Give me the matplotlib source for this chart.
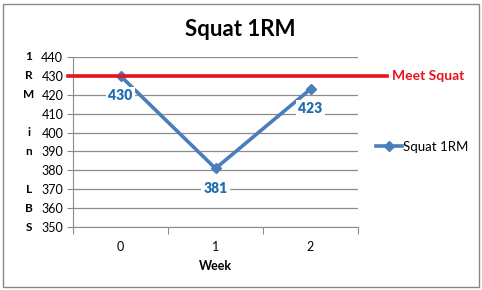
import matplotlib.pyplot as plt
from matplotlib.ticker import FixedLocator, NullFormatter

weeks = [0, 1, 2]
squat = [430, 381, 423]
meet_squat = 430
yticks = list(range(350, 441, 10))

line_color = '#4a7ebb'
label_color = '#1f6cb0'
plt.rcParams['font.family'] = ['Lato', 'DejaVu Sans']

fig = plt.figure(figsize=(4.82, 2.9), dpi=100)
ax = fig.add_axes([73 / 482, 1 - 227 / 290, 285 / 482, 170 / 290])

# outer chart border
fig.patches.append(plt.Rectangle((3 / 482, 3 / 290), 476 / 482, 283 / 290,
                                 transform=fig.transFigure, fill=False,
                                 edgecolor='#888888', linewidth=1))

ax.plot(weeks, squat, color=line_color, linewidth=2.6, marker='D',
        markersize=5, label='Squat 1RM', zorder=3)

# meet target line, drawn past the plot area like the original
trans = ax.get_yaxis_transform()
ax.plot([-0.018, 1.10], [meet_squat, meet_squat], color='#e8141c',
        linewidth=2.6, transform=trans, clip_on=False, zorder=4)
ax.text(1.12, meet_squat, 'Meet Squat', transform=trans, color='#e8141c',
        fontsize=10, fontweight='bold', va='center', ha='left')

# data labels
for x, y in zip(weeks, squat):
    ax.annotate(str(y), (x, y), xytext=(0, -14.3), textcoords='offset points',
                ha='center', va='center', color=label_color, fontsize=10,
                fontweight='heavy',
                bbox=dict(boxstyle='square,pad=0.15', fc='white', ec='none'),
                zorder=5)

ax.set_xlim(-0.5, 2.5)
ax.set_ylim(350, 440)
ax.set_yticks(yticks)
ax.yaxis.grid(True, color='#8c8c8c', linewidth=0.9)
ax.set_axisbelow(True)

ax.xaxis.set_major_locator(FixedLocator([-0.5, 0.5, 1.5, 2.5]))
ax.xaxis.set_major_formatter(NullFormatter())
ax.set_xticks(weeks, [str(w) for w in weeks], minor=True)
ax.tick_params(axis='x', which='minor', length=0, pad=10, labelsize=9)
ax.tick_params(axis='x', which='major', length=5, color='#8c8c8c')
ax.tick_params(axis='y', length=4, color='#8c8c8c', labelsize=9, pad=3)

for side in ['top', 'right']:
    ax.spines[side].set_visible(False)
ax.spines['left'].set_color('#8c8c8c')
ax.spines['bottom'].set_color('#8c8c8c')

ax.set_xlabel('Week', fontsize=9, fontweight='bold', labelpad=5)
fig.text(240 / 482, 1 - 30 / 290, 'Squat 1RM', ha='center', va='center',
         fontsize=16, fontweight='bold')

# stacked y label, one character per row
fig.text(29 / 482, 1 - 142 / 290, '\n'.join('1RM in LBS'), ha='center',
         va='center', fontsize=8.5, fontweight='bold', linespacing=1.88)

ax.legend(loc='center left', bbox_to_anchor=(1.02, 0.47), frameon=False,
          fontsize=9.5, handlelength=2.0, handletextpad=0.1)

fig.savefig('out.png', dpi=100)
